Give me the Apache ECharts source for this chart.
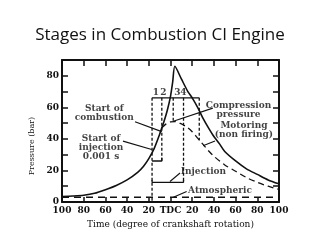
<!DOCTYPE html>
<html>
<head>
<meta charset="utf-8">
<style>
  html, body { margin: 0; padding: 0; background: #fff; }
  #chart { width: 320px; height: 240px; }
</style>
<script src="https://cdn.jsdelivr.net/npm/echarts@6/dist/echarts.min.js"></script>
</head>
<body>
<div id="chart"></div>
<script>
// crank angle (deg, negative = before TDC) and pressure (bar)
const firingDeg = [-100, -90, -80, -70, -60, -50, -40, -30, -25, -20, -15, -10, -8, -6, -3, 0, 2, 4, 10, 16, 20, 25, 30, 35, 40, 45, 50, 60, 70, 80, 90, 100];
const firingP   = [3.5, 3.8, 4.3, 5.5, 7.8, 10.5, 14, 19, 22.5, 27.5, 34, 43, 47, 51, 58, 67, 76, 86, 78, 70, 66, 60, 53, 47, 41.5, 37, 32, 26, 21, 17.5, 14, 11.5];
const motorDeg  = [-8, -4, 0, 4, 10, 15, 20, 25, 30, 35, 40, 50, 60, 70, 80, 90, 100];
const motorP    = [47, 49.5, 50.8, 51, 49.5, 47.5, 44.5, 40.5, 36.5, 32.5, 29, 23.5, 19.5, 15.5, 12.5, 10, 8];
const atmosP = 3;

// stage boundaries (dashed verticals) and where each one stops
const stageX      = [-17, -8, 2.5, 12, 26.5];
const stageBottom = [0, 26, 51, 12.5, 39];
const stageTop = 66;
const stageNames  = ['1', '2', '3', '4'];
const stageLabelX = [-13.4, -6.6, 6.3, 11.8];
const stageLabelY = 69.5;

const injStart = -17, injEnd = 12, injP = 12.5;
const delayP = 26;

// annotations: text, position, leader line [from, to]
const notes = [
  { text: 'Start of\ncombustion', at: [-61, 56], lead: [[-32.7, 50.8], [-8.1, 44.6]] },
  { text: 'Start of\ninjection\n0.001 s', at: [-64, 34.5], lead: [[-43.8, 38.6], [-17.3, 33.3]] },
  { text: 'Compression\npressure', at: [62.7, 58.2], lead: [[39, 59.5], [2.6, 51.2]] },
  { text: 'Motoring\n(non firing)', at: [67.7, 45.4], lead: [[41, 38.6], [30, 35.6]] },
  { text: 'Injection', at: [30.4, 19.2], lead: [[8.8, 18.4], [-0.5, 13]] },
  { text: 'Atmospheric', at: [45.6, 7], lead: [[14.9, 6.6], [2.6, atmosP]] }
];

const ink = '#111';
const serif = 'DejaVu Serif';

let chart = echarts.init(document.getElementById('chart'));
let series = [];

series.push({
  type: 'line', symbol: 'none', z: 5, smooth: 0.25,
  lineStyle: { color: ink, width: 1.6 },
  data: firingDeg.map((d, i) => [d, firingP[i]])
});
series.push({
  type: 'line', symbol: 'none', z: 4, smooth: 0.3,
  lineStyle: { color: ink, width: 1.3, type: [6, 4] },
  data: motorDeg.map((d, i) => [d, motorP[i]])
});
series.push({
  type: 'line', symbol: 'none',
  lineStyle: { color: ink, width: 1.3, type: [7, 5] },
  data: [[-100, atmosP], [100, atmosP]]
});

// stage box
series.push({
  type: 'line', symbol: 'none',
  lineStyle: { color: ink, width: 1.4 },
  data: [[stageX[0], stageTop], [stageX[stageX.length - 1], stageTop]]
});
stageX.forEach((x, i) => {
  series.push({
    type: 'line', symbol: 'none',
    lineStyle: { color: ink, width: 1.3, type: [3, 2] },
    data: [[x, stageTop], [x, stageBottom[i]]]
  });
});

// ignition delay bracket and injection bracket
series.push({
  type: 'line', symbol: 'none',
  lineStyle: { color: ink, width: 1.3 },
  data: [[stageX[0], delayP], [stageX[1], delayP], [stageX[1], delayP + 2]]
});
series.push({
  type: 'line', symbol: 'none',
  lineStyle: { color: ink, width: 1.3 },
  data: [[injStart, injP + 1.5], [injStart, injP], [injEnd, injP], [injEnd, injP + 1.5]]
});

// leader lines
notes.forEach(n => {
  series.push({
    type: 'line', symbol: 'none',
    lineStyle: { color: ink, width: 1.1 },
    data: n.lead
  });
});

// texts
series.push({
  type: 'scatter', symbolSize: 0, z: 10,
  label: {
    show: true, position: 'inside', formatter: p => p.name,
    color: ink, fontFamily: serif, fontSize: 9, fontWeight: 'bold', lineHeight: 9, align: 'center'
  },
  data: notes.map(n => ({ name: n.text, value: n.at }))
    .concat(stageNames.map((s, i) => ({ name: s, value: [stageLabelX[i], stageLabelY] })))
});

const axisLine = { onZero: false, lineStyle: { color: ink, width: 2 } };
const tick = (len) => ({ show: true, inside: true, length: len, lineStyle: { color: ink, width: 1.5 } });

option = {
  animation: false,
  title: {
    text: 'Stages in Combustion CI Engine',
    left: 'center', top: 22,
    textStyle: { fontFamily: 'Open Sans', fontWeight: 'normal', fontSize: 17, color: '#111' }
  },
  grid: { left: 62, right: 41, top: 60, bottom: 38 },
  xAxis: [{
    type: 'value', min: -100, max: 100, interval: 20,
    axisLine: axisLine, axisTick: tick(5), splitLine: { show: false },
    axisLabel: {
      margin: 4, color: ink, fontFamily: serif, fontSize: 9, fontWeight: 'bold',
      formatter: v => v === 0 ? 'TDC' : String(Math.abs(v))
    },
    name: 'Time (degree of crankshaft rotation)', nameLocation: 'middle', nameGap: 15,
    nameTextStyle: { color: ink, fontFamily: serif, fontSize: 9 }
  }, {
    type: 'value', position: 'top', min: -100, max: 100, interval: 20,
    axisLine: axisLine, axisTick: tick(6), axisLabel: { show: false }, splitLine: { show: false }
  }],
  yAxis: [{
    type: 'value', position: 'left', min: 0, max: 90, interval: 10,
    axisLine: axisLine, axisTick: tick(6), splitLine: { show: false },
    axisLabel: {
      margin: 3, color: ink, fontFamily: serif, fontSize: 9, fontWeight: 'bold',
      formatter: v => v % 20 === 0 ? String(v) : ''
    },
    name: 'Pressure (bar)', nameLocation: 'middle', nameGap: 16,
    nameTextStyle: { color: ink, fontFamily: serif, fontSize: 8, padding: [0, 30, 0, 0] }
  }, {
    type: 'value', position: 'right', min: 0, max: 90, interval: 10,
    axisLine: axisLine, axisTick: tick(6), axisLabel: { show: false }, splitLine: { show: false }
  }],
  series: series
};

chart.setOption(option);
</script>
</body>
</html>
